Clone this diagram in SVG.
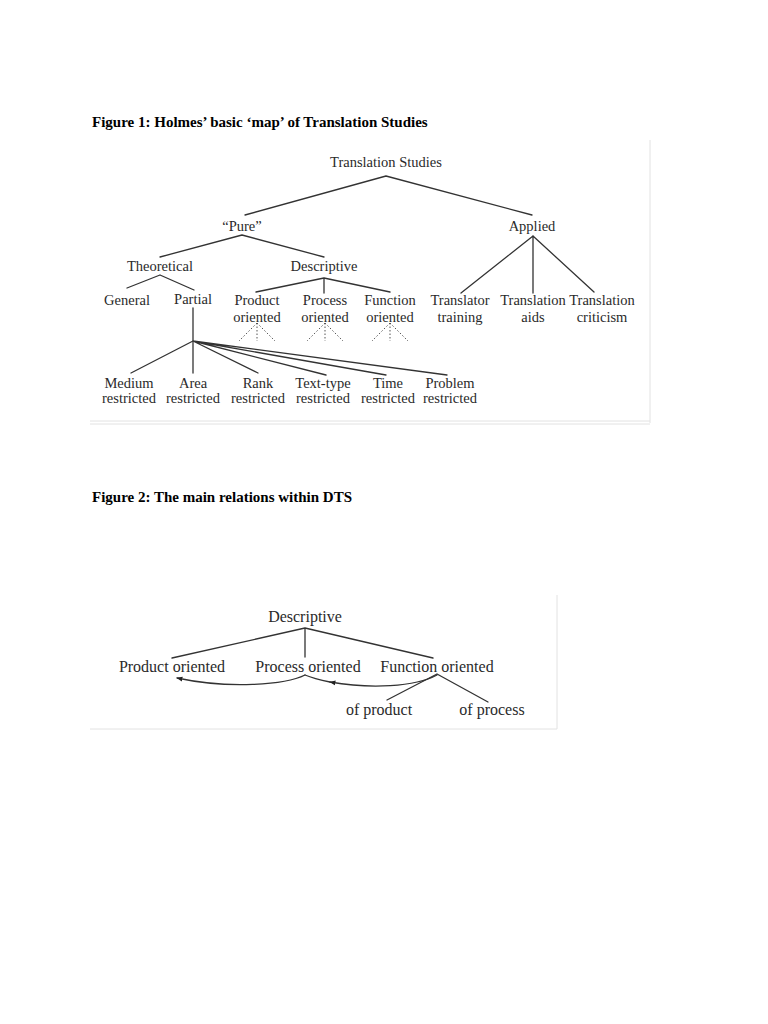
<svg xmlns="http://www.w3.org/2000/svg" width="768" height="1024" viewBox="0 0 768 1024">
<defs>
<style>
.cap{font-family:"Liberation Serif","Times New Roman",serif;font-size:15px;font-weight:bold;fill:#000}
.t1{font-family:"Liberation Serif","Times New Roman",serif;font-size:14.5px;fill:#2a2a2a;text-anchor:middle}
.t2{font-family:"Liberation Serif","Times New Roman",serif;font-size:16px;fill:#2a2a2a;text-anchor:middle}
.ln{stroke:#333;stroke-width:1.3;fill:none;stroke-linecap:round}
.dot{stroke:#555;stroke-width:1;fill:none;stroke-dasharray:1.5 2}
.frame{stroke:#e2e2e2;stroke-width:1;fill:none}
</style>
<marker id="ah" viewBox="0 0 10 10" refX="9" refY="5" markerWidth="6" markerHeight="6" markerUnits="userSpaceOnUse" orient="auto">
<path d="M0,1 L10,5 L0,9 z" fill="#222"/>
</marker>
</defs>
<rect x="0" y="0" width="768" height="1024" fill="#fff"/>

<text class="cap" x="92" y="127">Figure 1: Holmes’ basic ‘map’ of Translation Studies</text>
<text class="cap" x="92" y="502">Figure 2: The main relations within DTS</text>

<!-- frames -->
<g id="frames">
<path class="frame" d="M650,140 V423 M90,421 H650 M90,424 H650"/>
<path class="frame" d="M557,595 V729 M90,729 H557"/>
</g>

<!-- Figure 1 connectors -->
<g id="connectors1">
<path class="ln" d="M386,176 L245,215 M386,176 L532,215"/>
<path class="ln" d="M242,235 L160,257 M242,235 L324,257"/>
<path class="ln" d="M533,236 L461,293 M533,236 L533,293 M533,236 L594,292"/>
<path class="ln" d="M160,275 L127,288 M160,275 L194,290"/>
<path class="ln" d="M324,278 L256,292 M324,278 L324,293 M324,278 L390,292"/>
<path class="ln" d="M193,308 V373"/>
<path class="ln" d="M193,341 L131,373 M193,341 L258,373 M193,341 L326,375 M193,341 L386,375 M193,341 L447,375"/>
<path class="dot" d="M257,323 L239,341 M257,323 L275,341 M257,323 V341"/>
<path class="dot" d="M325,323 L307,341 M325,323 L343,341 M325,323 V341"/>
<path class="dot" d="M390,323 L372,341 M390,323 L408,341 M390,323 V341"/>
</g>

<!-- Figure 1 nodes -->
<g id="n-ts"><text class="t1" x="386" y="167">Translation Studies</text></g>
<g id="n-pure"><text class="t1" x="242" y="231">“Pure”</text></g>
<g id="n-applied"><text class="t1" x="532" y="231">Applied</text></g>
<g id="n-theoretical"><text class="t1" x="160" y="271">Theoretical</text></g>
<g id="n-descriptive"><text class="t1" x="324" y="271">Descriptive</text></g>
<g id="n-general"><text class="t1" x="127" y="305">General</text></g>
<g id="n-partial"><text class="t1" x="193" y="304">Partial</text></g>
<g id="n-product"><text class="t1" x="257" y="305">Product</text><text class="t1" x="257" y="322">oriented</text></g>
<g id="n-process"><text class="t1" x="325" y="305">Process</text><text class="t1" x="325" y="322">oriented</text></g>
<g id="n-function"><text class="t1" x="390" y="305">Function</text><text class="t1" x="390" y="322">oriented</text></g>
<g id="n-translator"><text class="t1" x="460" y="305">Translator</text><text class="t1" x="460" y="322">training</text></g>
<g id="n-aids"><text class="t1" x="533" y="305">Translation</text><text class="t1" x="533" y="322">aids</text></g>
<g id="n-criticism"><text class="t1" x="602" y="305">Translation</text><text class="t1" x="602" y="322">criticism</text></g>
<g id="n-medium"><text class="t1" x="129" y="388">Medium</text><text class="t1" x="129" y="403">restricted</text></g>
<g id="n-area"><text class="t1" x="193" y="388">Area</text><text class="t1" x="193" y="403">restricted</text></g>
<g id="n-rank"><text class="t1" x="258" y="388">Rank</text><text class="t1" x="258" y="403">restricted</text></g>
<g id="n-texttype"><text class="t1" x="323" y="388">Text-type</text><text class="t1" x="323" y="403">restricted</text></g>
<g id="n-time"><text class="t1" x="388" y="388">Time</text><text class="t1" x="388" y="403">restricted</text></g>
<g id="n-problem"><text class="t1" x="450" y="388">Problem</text><text class="t1" x="450" y="403">restricted</text></g>

<!-- Figure 2 connectors -->
<g id="connectors2">
<path class="ln" d="M305,628 L172,658 M305,628 L305,657 M305,628 L433,658"/>
<path class="ln" d="M437,674 L387,700 M437,674 L488,702"/>
<path class="ln" d="M305,675 C285,685 228,689 177,678" marker-end="url(#ah)"/>
<path class="ln" d="M437,675 C415,687 370,689 330,682" marker-end="url(#ah)"/>
<path class="ln" d="M330,682 C320,680 312,678 305,675"/>
</g>

<!-- Figure 2 nodes -->
<g id="f2-descriptive"><text class="t2" x="305" y="622">Descriptive</text></g>
<g id="f2-product"><text class="t2" x="172" y="672">Product oriented</text></g>
<g id="f2-process"><text class="t2" x="308" y="672">Process oriented</text></g>
<g id="f2-function"><text class="t2" x="437" y="672">Function oriented</text></g>
<g id="f2-ofproduct"><text class="t2" x="379" y="715">of product</text></g>
<g id="f2-ofprocess"><text class="t2" x="492" y="715">of process</text></g>
</svg>
